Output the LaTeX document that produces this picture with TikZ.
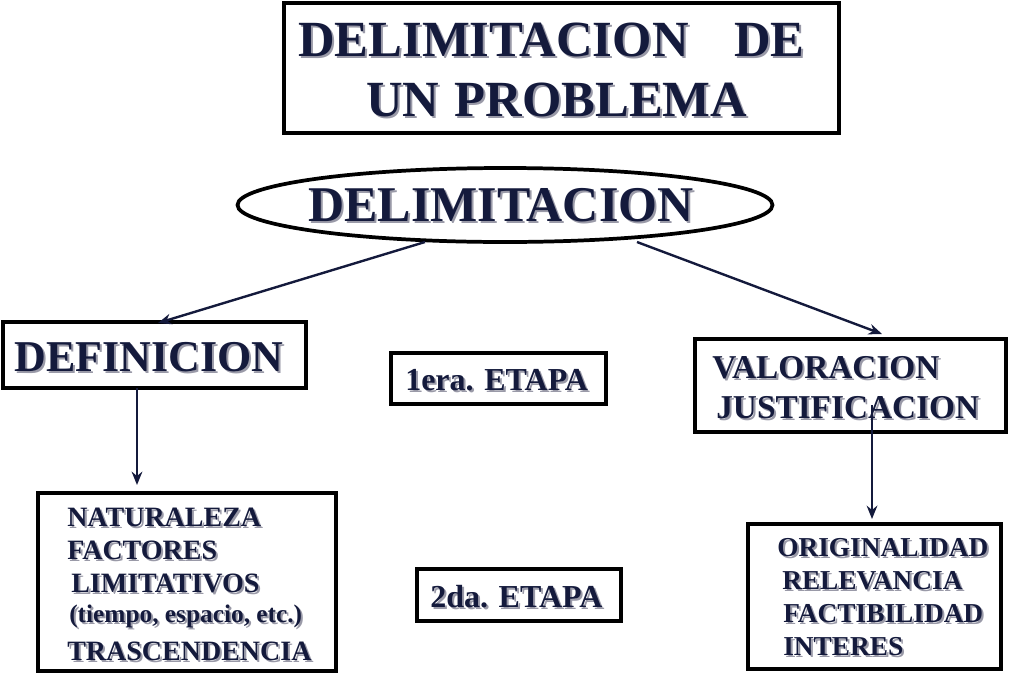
\documentclass[tikz,border=0pt]{standalone}
\usepackage{fontspec}
\setmainfont{Liberation Serif}
\usetikzlibrary{shapes.geometric,arrows.meta,calc}
\definecolor{navy}{HTML}{141A3C}
\definecolor{shad}{HTML}{9A9AA8}
\tikzset{
  frame/.style={draw=black,line width=2.8pt},
  txt/.style={text=navy,font=\bfseries,align=left,inner sep=0pt,anchor=west},
  conn/.style={draw=navy,line width=1.8pt,-{Stealth[length=10pt,width=8pt]}}
}
\newcommand{\stxt}[4]{% name, pos, size, text
  \node[txt,text=shad,font=\bfseries\fontsize{#3}{#3}\selectfont] at ($(#2)+(2,2)$) {#4};
  \node[txt,font=\bfseries\fontsize{#3}{#3}\selectfont] (#1) at (#2) {#4};}
\begin{document}
\begin{tikzpicture}[x=0.75pt,y=-0.75pt]
\useasboundingbox (0,0) rectangle (1009,675);
\draw[frame] (284,3) rectangle (839,133);
\stxt{t1}{298,40}{38}{DELIMITACION\hspace{0.9em}DE}
\stxt{t2}{366,100}{38}{UN\hspace{0.3em}PROBLEMA}
\node[frame,ellipse,minimum width=535*0.75pt,minimum height=74*0.75pt] (ell) at (505,205) {};
\stxt{d}{308,205}{37.5}{DELIMITACION}
\draw[frame] (3,322) rectangle (306,388);
\stxt{def}{14,357}{33}{DEFINICION}
\draw[frame] (391,353) rectangle (606,404);
\stxt{e1}{405,380}{24}{1era. ETAPA}
\draw[frame] (695,339) rectangle (1006,432);
\stxt{v1}{712,368}{25}{VALORACION}
\stxt{v2}{716,408}{25}{JUSTIFICACION}
\draw[frame] (38,493) rectangle (336,671);
\stxt{n1}{67,517}{21}{NATURALEZA}
\stxt{n2}{67,550}{21}{FACTORES}
\stxt{n3}{71,583}{21}{LIMITATIVOS}
\stxt{n4}{69,616}{19}{(tiempo, espacio, etc.)}
\stxt{n5}{67,651}{21}{TRASCENDENCIA}
\draw[frame] (417,569) rectangle (621,621);
\stxt{e2}{430,597}{24}{2da. ETAPA}
\draw[frame] (748,524) rectangle (1001,669);
\stxt{o1}{777,548}{20.5}{ORIGINALIDAD}
\stxt{o2}{782,581}{20.5}{RELEVANCIA}
\stxt{o3}{783,614}{20.5}{FACTIBILIDAD}
\stxt{o4}{783,647}{20.5}{INTERES}
\coordinate (a1) at (425,242); \coordinate (b1) at (158,323);
\coordinate (a2) at (637,242); \coordinate (b2) at (882,334);
\coordinate (a3) at (137,388); \coordinate (b3) at (137,485);
\coordinate (a4) at (872,405); \coordinate (b4) at (872,519);
\draw[conn] (a1) -- (b1);
\draw[conn] (a2) -- (b2);
\draw[conn] (a3) -- (b3);
\draw[conn] (a4) -- (b4);
\end{tikzpicture}
\end{document}
